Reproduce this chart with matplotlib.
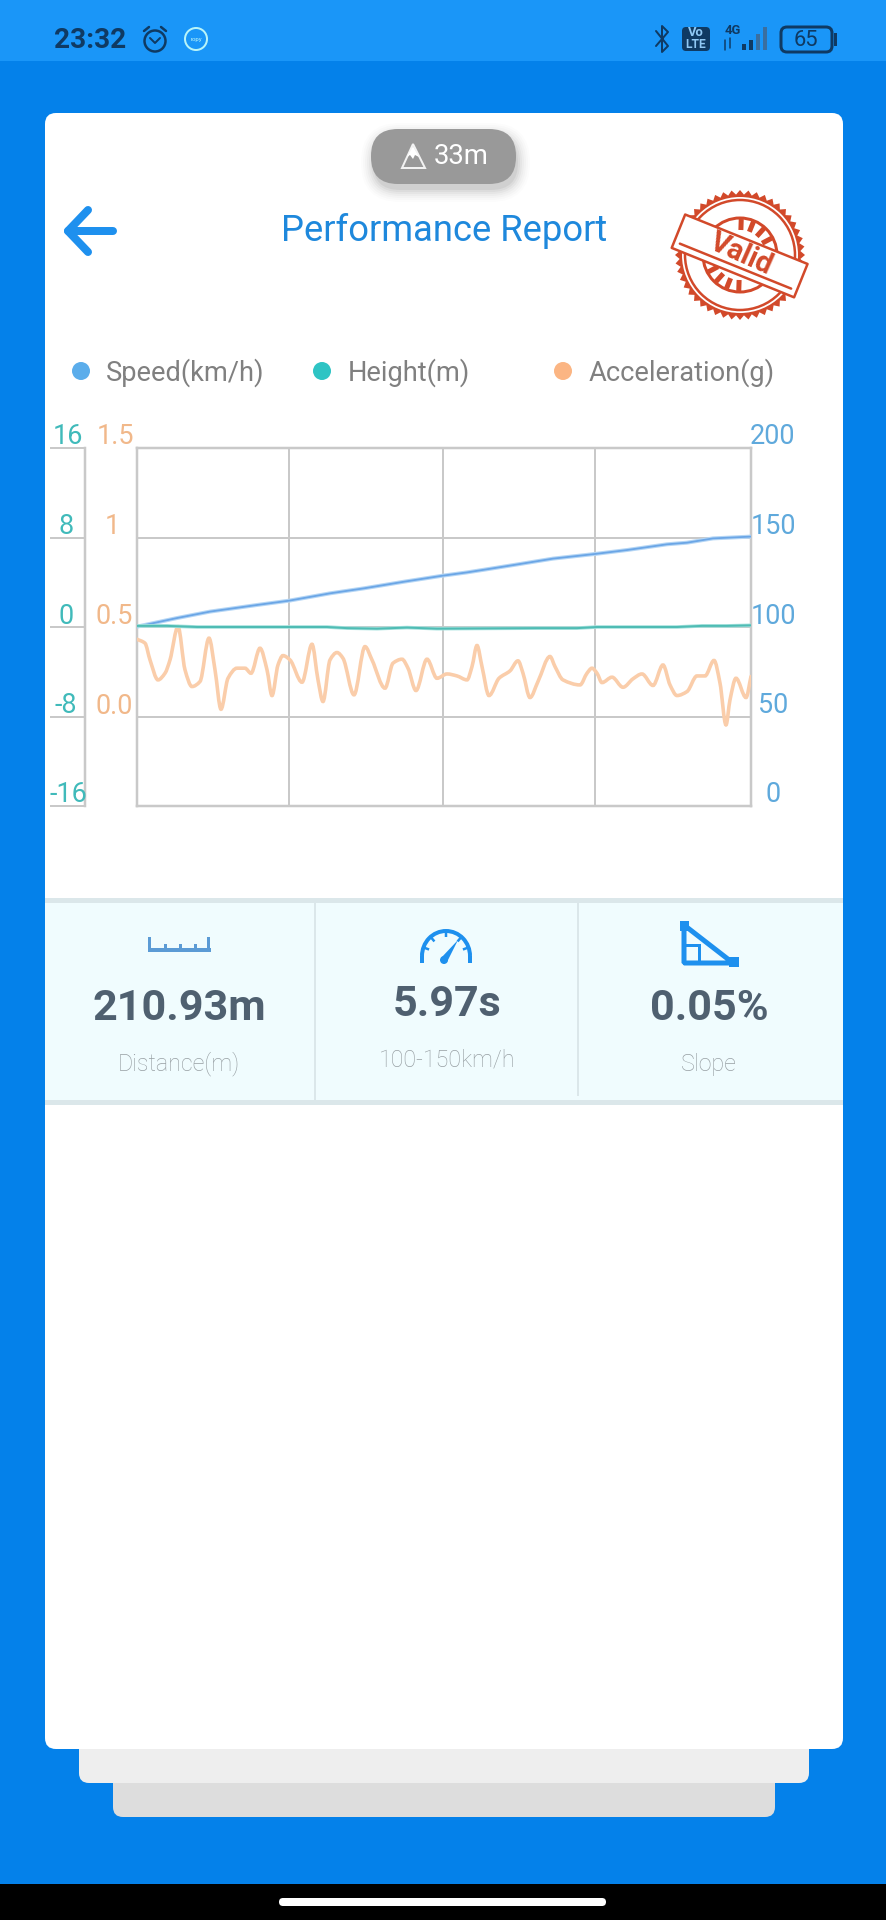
import numpy as np
import matplotlib
matplotlib.use("Agg")
import matplotlib.pyplot as plt
from matplotlib.patches import Circle, FancyBboxPatch, Polygon, Rectangle, Arc, PathPatch
from matplotlib.path import Path
from matplotlib.transforms import blended_transform_factory

plt.rcParams['font.family'] = ['Roboto', 'DejaVu Sans']

W, H = 886, 1920

# chart values, x is just the position along the run
speed_x = [0, 40, 73, 120, 152, 193, 227, 267, 306, 330, 346, 383, 416, 458, 490, 530, 550, 576, 614]
speed_kmh = [100.2, 105.0, 108.6, 112.3, 114.7, 118.8, 121.6, 125.3, 128.7, 130.5, 131.9, 135.2, 138.2,
             140.8, 143, 146.2, 147.1, 149.5, 150.5]

height_x = [0, 30, 60, 100, 190, 210, 240, 270, 300, 400, 440, 460, 480, 540, 565, 590, 614]
height_m = [0.1, 0.1, 0.0, 0.0, 0.0, -0.1, -0.15, -0.05, -0.15, -0.1, -0.1, 0.0, 0.0, 0.0, 0.1, 0.1, 0.15]

accel_x = [0, 8, 13, 21, 28, 33, 41, 48, 55, 63, 72, 78, 84, 91, 100, 108, 114, 123, 130, 135, 141, 146,
           153, 165, 175, 181, 186, 193, 200, 206, 217, 228, 235, 248, 256, 265, 271, 279, 290, 300, 310,
           320, 330, 335, 340, 345, 352, 362, 373, 381, 386, 393, 401, 413, 418, 426, 443, 450, 455, 460,
           465, 475, 486, 496, 505, 516, 526, 533, 540, 550, 560, 568, 577, 583, 589, 593, 599, 609, 614]
accel_g = [0.437, 0.415, 0.322, 0.211, 0.248, 0.322, 0.507, 0.267, 0.174, 0.202, 0.443, 0.267, 0.048,
           0.220, 0.276, 0.276, 0.248, 0.387, 0.267, 0.124, 0.294, 0.346, 0.322, 0.198, 0.409, 0.211,
           0.091, 0.322, 0.363, 0.331, 0.128, 0.396, 0.322, 0.165, 0.304, 0.326, 0.276, 0.152, 0.326,
           0.220, 0.244, 0.233, 0.211, 0.285, 0.402, 0.285, 0.124, 0.220, 0.261, 0.317, 0.248, 0.113,
           0.202, 0.341, 0.285, 0.211, 0.183, 0.248, 0.276, 0.248, 0.196, 0.226, 0.170, 0.217, 0.244,
           0.180, 0.294, 0.183, 0.124, 0.146, 0.233, 0.233, 0.319, 0.193, -0.039, 0.100, 0.220, 0.113,
           0.230]

speed_ticks = [0, 50, 100, 150, 200]
height_ticks = [-16, -8, 0, 8, 16]
accel_ticks = [0.0, 0.5, 1, 1.5]
accel_tick_labels = ['0.0', '0.5', '1', '1.5']
grid_x = [0, 152, 306, 458, 614]
legend_names = ['Speed(km/h)', 'Height(m)', 'Acceleration(g)']
stat_values = ['210.93m', '5.97s', '0.05%']
stat_names = ['Distance(m)', '100-150km/h', 'Slope']

BLUE_BG = '#0481ea'
SPEED = '#5fa9dc'
HEIGHT = '#40baba'
ACCEL = '#f1b88a'
GRID = '#c9c9c9'
STAMP = '#d2492a'
ICON = '#1e90ee'


def px(v):
    # pixels to points at dpi 100
    return v * 0.72


def rbox(ax, x0, y0, x1, y1, r, color, zorder=1, **kw):
    p = FancyBboxPatch((x0 + r, y0 + r), x1 - x0 - 2 * r, y1 - y0 - 2 * r,
                       boxstyle=f"round,pad={r},rounding_size={r}", fc=color, ec='none', zorder=zorder, **kw)
    ax.add_patch(p)
    return p


def line(ax, xs, ys, color, lw, zorder=5, cap='round'):
    ax.plot(xs, ys, color=color, lw=px(lw), solid_capstyle=cap, solid_joinstyle='round', zorder=zorder)


def smooth_line(ax, xs, ys, color, lw, zorder=3):
    # the app draws a smoothed curve, so join the read points with beziers, flat at each peak
    xs = np.asarray(xs, float)
    ys = np.asarray(ys, float)
    dx = np.diff(xs)
    d = np.diff(ys) / dx
    m = np.zeros_like(ys)
    m[0], m[-1] = d[0], d[-1]
    for i in range(1, len(ys) - 1):
        if d[i - 1] * d[i] > 0:
            m[i] = 2 * d[i - 1] * d[i] / (d[i - 1] + d[i])
    verts = [(xs[0], ys[0])]
    codes = [Path.MOVETO]
    for i in range(len(dx)):
        verts += [(xs[i] + dx[i] / 3, ys[i] + m[i] * dx[i] / 3),
                  (xs[i + 1] - dx[i] / 3, ys[i + 1] - m[i + 1] * dx[i] / 3),
                  (xs[i + 1], ys[i + 1])]
        codes += [Path.CURVE4] * 3
    ax.add_patch(PathPatch(Path(verts, codes), fc='none', ec=color, lw=px(lw), capstyle='round', zorder=zorder))


fig = plt.figure(figsize=(W / 100, H / 100), dpi=100, facecolor=BLUE_BG)

# full size axes in pixels for the screen around the chart
bg = fig.add_axes([0, 0, 1, 1])
bg.set_xlim(0, W)
bg.set_ylim(H, 0)
bg.axis('off')

# status bar and navigation bar
bg.add_patch(Rectangle((0, 0), W, 61, fc='#1a96f8', ec='none'))
bg.add_patch(Rectangle((0, 1884), W, 36, fc='black', ec='none'))
rbox(bg, 279, 1898, 606, 1906, 4, 'white')

# stacked cards
rbox(bg, 113, 1700, 775, 1817, 10, '#dddddd', zorder=1)
rbox(bg, 79, 1700, 809, 1783, 10, '#eeeeee', zorder=2)
rbox(bg, 45, 113, 843, 1749, 11, 'white', zorder=3)

# status bar contents
DARK = '#0f3a63'
bg.text(54, 40, '23:32', fontsize=px(28), fontweight='bold', color=DARK, va='center', ha='left', zorder=6)
bg.add_patch(Circle((155, 41), 10.5, fc='none', ec=DARK, lw=px(2.5), zorder=6))
line(bg, [150, 155, 160], [38, 43, 38], DARK, 2)
line(bg, [144, 149], [31, 27], DARK, 2.5)
line(bg, [161, 166], [27, 31], DARK, 2.5)
bg.add_patch(Circle((196, 39), 11, fc='#1a96f8', ec='#b8f4f8', lw=px(2), zorder=6))
bg.text(196, 39, 'ropy', fontsize=px(6), color='#b8f4f8', ha='center', va='center', zorder=7)
line(bg, [656, 668, 662, 662, 668, 656], [31, 46, 52, 26, 32, 46], DARK, 2)
rbox(bg, 682, 27, 710, 51, 4, DARK, zorder=6)
bg.text(696, 33, 'Vo', fontsize=px(13), color='#8fc8f4', fontweight='bold', ha='center', va='center', zorder=7)
bg.text(696, 45, 'LTE', fontsize=px(12), color='#8fc8f4', fontweight='bold', ha='center', va='center', zorder=7)
bg.text(733, 31, '4G', fontsize=px(13), color=DARK, fontweight='bold', ha='center', va='center', zorder=6)
line(bg, [725, 725], [40, 50], DARK, 1.5)
line(bg, [730, 730], [38, 48], DARK, 1.5)
for bx, top, col in [(742, 44, DARK), (749, 40, DARK), (756, 34, '#3a6fa0'), (763, 27, '#3a6fa0')]:
    bg.add_patch(Rectangle((bx, top), 4.5, 50 - top, fc=col, ec='none', zorder=6))
bg.add_patch(FancyBboxPatch((784, 30), 45, 19, boxstyle="round,pad=3,rounding_size=6",
                            fc='none', ec=DARK, lw=px(3), zorder=6))
bg.add_patch(Rectangle((834, 33), 3, 13, fc=DARK, ec='none', zorder=6))
bg.text(806, 41, '65', fontsize=px(22), color=DARK, ha='center', va='center', zorder=6)

# height pill with soft shadow
for grow, alpha in [(12, 0.012), (10, 0.015), (8, 0.02), (6, 0.025), (4, 0.03), (2, 0.04), (0, 0.05)]:
    rbox(bg, 371 - grow + 2, 129 + 6 - grow, 516 + grow + 2, 184 + 6 + grow, 27 + grow, 'black', zorder=4, alpha=alpha)
rbox(bg, 371, 129, 516, 184, 27, '#999999', zorder=5)
bg.add_patch(Polygon([[413, 144], [425, 168], [402, 168]], closed=True, fc='#999999', ec='#f2f2f2', lw=px(2), zorder=6))
bg.add_patch(Polygon([[413, 146], [419, 157], [415, 155], [413, 159], [410, 155], [407, 157]], closed=True,
                     fc='white', ec='none', zorder=7))
bg.text(461, 157, '33m', fontsize=px(27.5), color='white', ha='center', va='center', zorder=6)

# header
line(bg, [113, 68, 88], [231, 231, 210], ICON, 8)
line(bg, [68, 88], [231, 252], ICON, 8)
bg.text(444, 231, 'Performance Report', fontsize=px(36.4), color='#1e88dc', ha='center', va='center', zorder=6)

# valid stamp
cx, cy = 740, 255
ang = np.linspace(0, 2 * np.pi, 97)[:-1]
rad = np.where(np.arange(96) % 2 == 0, 65, 60.5)
bg.add_patch(Polygon(np.c_[cx + rad * np.cos(ang), cy + rad * np.sin(ang)], closed=True, fc=STAMP, ec='none', zorder=5))
bg.add_patch(Circle((cx, cy), 58, fc='white', ec='none', zorder=5))
bg.add_patch(Circle((cx, cy), 55, fc='none', ec=STAMP, lw=px(2.5), zorder=5))
bg.add_patch(Circle((cx, cy), 37, fc='none', ec=STAMP, lw=px(3), zorder=5))
for a in [-110, -90, -70, -50, 70, 90, 110, 130]:
    t = np.radians(a + 22)
    line(bg, [cx + 25 * np.cos(t), cx + 36 * np.cos(t)], [cy + 25 * np.sin(t), cy + 36 * np.sin(t)], STAMP, 5, cap='butt')
t = np.radians(22)
u = np.array([np.cos(t), np.sin(t)])
v = np.array([-np.sin(t), np.cos(t)])
c = np.array([cx, cy])
corners = [c - 66 * u - 17 * v, c + 66 * u - 17 * v, c + 66 * u + 19 * v, c - 66 * u + 19 * v]
bg.add_patch(Polygon(corners, closed=True, fc='white', ec=STAMP, lw=px(2.5), joinstyle='round', zorder=6))
p0, p1 = c - 60 * u + 12 * v, c + 60 * u + 12 * v
line(bg, [p0[0], p1[0]], [p0[1], p1[1]], STAMP, 2.5, zorder=7)
bg.text(cx + 1, cy - 1, 'Valid', fontsize=px(29), fontweight='bold', color=STAMP, rotation=-24,
        rotation_mode='anchor', ha='center', va='center', zorder=8)

# legend row
legend_dots = [81, 322, 563]
legend_text = [106, 348, 589]
for name, dx, tx, col in zip(legend_names, legend_dots, legend_text, ['#5badeb', '#2ec4c4', '#fbb583']):
    bg.add_patch(Circle((dx, 371), 9, fc=col, ec='none', zorder=6))
    bg.text(tx, 373, name, fontsize=px(27.3), color='#808080', ha='left', va='center', zorder=6)

# stats panel
bg.add_patch(Rectangle((45, 898), 798, 207, fc='#f0fcfe', ec='none', zorder=4))
bg.add_patch(Rectangle((45, 898), 798, 5, fc='#dbe7ea', ec='none', zorder=5))
bg.add_patch(Rectangle((45, 1100), 798, 5, fc='#dbe7ea', ec='none', zorder=5))
bg.add_patch(Rectangle((314, 903), 2, 197, fc='#dbe7ea', ec='none', zorder=5))
bg.add_patch(Rectangle((577, 903), 2, 193, fc='#dbe7ea', ec='none', zorder=5))
for val, name, sx, vy, ny in zip(stat_values, stat_names, [179, 447, 709], [1008, 1004, 1008], [1064, 1060, 1064]):
    bg.text(sx, vy, val, fontsize=px(43.2), fontweight='bold', color='#4f6070', ha='center', va='center', zorder=6)
    bg.text(sx, ny, name, fontsize=px(23.2), fontweight='light', color='#979fa3', ha='center', va='center', zorder=6)

# ruler icon
RULER = '#5b9bd5'
bg.add_patch(Rectangle((148, 948), 63, 3.5, fc=RULER, ec='none', zorder=6))
for rx, top in zip([148, 164, 179, 194, 207], [937, 944, 944, 944, 937]):
    bg.add_patch(Rectangle((rx, top), 3.5, 948 - top, fc=RULER, ec='none', zorder=6))

# gauge icon
bg.add_patch(Arc((446, 956), 48, 50, theta1=180, theta2=360, color=ICON, lw=px(4), zorder=6))
line(bg, [422, 422], [956, 963], ICON, 4, cap='butt')
line(bg, [470, 470], [956, 963], ICON, 4, cap='butt')
for a in [200, 230, 270, 310, 340]:
    t = np.radians(a)
    line(bg, [446 + 23 * np.cos(t), 446 + 18 * np.cos(t)], [956 + 24 * np.sin(t), 956 + 19 * np.sin(t)], ICON, 2.5, cap='butt')
bg.add_patch(Polygon([[441, 958], [458, 940], [447, 962]], closed=True, fc=ICON, ec='none', zorder=6))
bg.add_patch(Circle((444, 960), 4, fc=ICON, ec='none', zorder=6))

# slope icon
bg.add_patch(Polygon([[684, 925], [733, 963], [684, 963]], closed=True, fc='none', ec=ICON, lw=px(5),
                     joinstyle='bevel', zorder=6))
bg.add_patch(Rectangle((684, 945), 15, 18, fc='none', ec=ICON, lw=px(3), zorder=6))
bg.add_patch(Rectangle((680, 921), 9, 10, fc=ICON, ec='none', zorder=6))
bg.add_patch(Rectangle((729, 957), 10, 10, fc=ICON, ec='none', zorder=6))

# the chart itself, speed axis holds the grid
left, right, top, bottom = 137, 751, 448, 806
ax = fig.add_axes([left / W, 1 - bottom / H, (right - left) / W, (bottom - top) / H], zorder=5)
ax.patch.set_alpha(0)
ax.set_xlim(0, 614)
ax.set_ylim(0, 200)
ax.set_xticks(grid_x)
ax.set_yticks(speed_ticks)
ax.tick_params(length=0, labelleft=False, labelbottom=False)
ax.grid(True, color=GRID, lw=px(2))
ax.set_axisbelow(True)
for s in ax.spines.values():
    s.set_color(GRID)
    s.set_linewidth(px(2.5))
ax.plot(speed_x, speed_kmh, color='#b5d6f5', lw=px(4), zorder=4)
ax.plot(speed_x, speed_kmh, color='#6ba6e6', lw=px(1.8), zorder=4)

ax_acc = ax.twinx()
ax_acc.set_ylim(-0.49, 1.5)
ax_acc.set_yticks([])
ax_acc.set_xlim(0, 614)
smooth_line(ax_acc, accel_x, accel_g, '#facdaa', 3.6)
for s in ax_acc.spines.values():
    s.set_visible(False)

ax_h = ax.twinx()
ax_h.set_ylim(-16, 16)
ax_h.set_xlim(0, 614)
ax_h.plot(height_x, height_m, color='#a5e2de', lw=px(3.6), zorder=4)
ax_h.plot(height_x, height_m, color='#4fbcb4', lw=px(2), zorder=4)
for s in ax_h.spines.values():
    s.set_visible(False)
# height axis sits left of the grid, its ticks run outward
ax_h.spines['left'].set_visible(True)
ax_h.spines['left'].set_position(('outward', px(left - 85)))
ax_h.spines['left'].set_color(GRID)
ax_h.spines['left'].set_linewidth(px(2.5))
ax_h.yaxis.set_ticks_position('left')
ax_h.set_yticks(height_ticks)
ax_h.tick_params(axis='y', length=px(35), width=px(2), color=GRID, labelleft=False, labelright=False)

# axis labels sit a little above their tick
tr = blended_transform_factory(bg.transData, ax_h.transData)
for tick, lx in zip(height_ticks, [68, 66, 66, 66, 68]):
    ax_h.annotate(str(tick), xy=(lx, tick), xycoords=tr, xytext=(0, px(11)), textcoords='offset points',
                  ha='center', va='center', fontsize=px(27), color=HEIGHT, annotation_clip=False)
tr = blended_transform_factory(bg.transData, ax_acc.transData)
for tick, lab, lx in zip(accel_ticks, accel_tick_labels, [114, 114, 112, 115]):
    ax_acc.annotate(lab, xy=(lx, tick), xycoords=tr, xytext=(0, px(11)), textcoords='offset points',
                    ha='center', va='center', fontsize=px(27), color=ACCEL, annotation_clip=False)
tr = blended_transform_factory(bg.transData, ax.transData)
for tick in speed_ticks:
    ax.annotate(str(tick), xy=(773, tick), xycoords=tr, xytext=(0, px(11)), textcoords='offset points',
                ha='center', va='center', fontsize=px(27), color=SPEED, annotation_clip=False)

fig.savefig('out.png', dpi=100, facecolor=BLUE_BG)
